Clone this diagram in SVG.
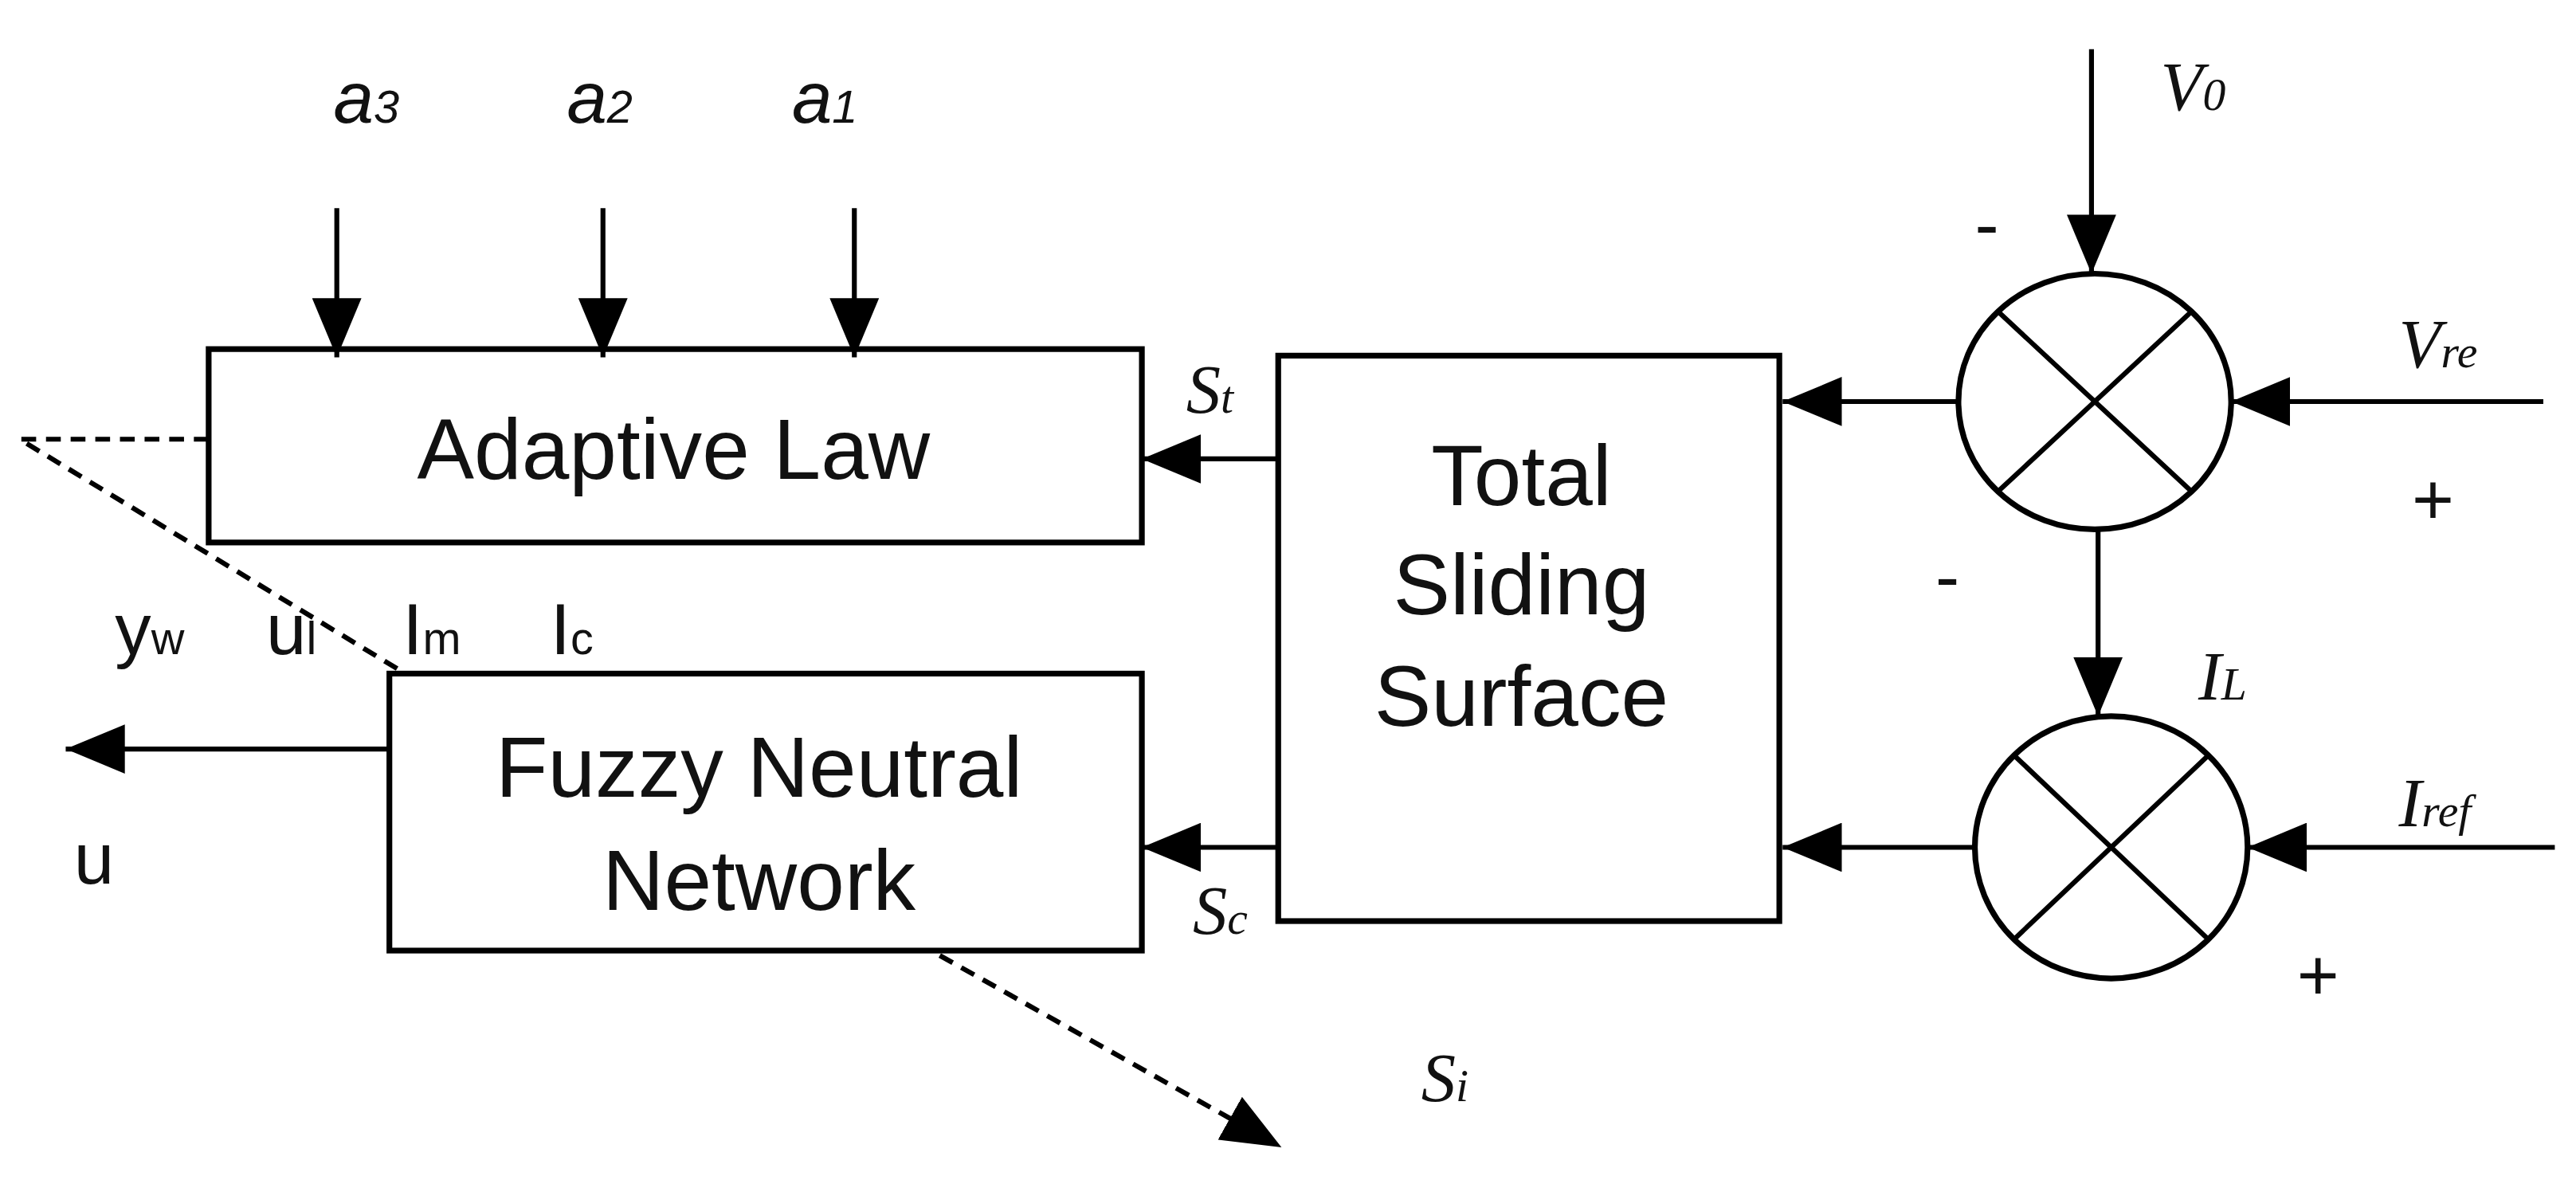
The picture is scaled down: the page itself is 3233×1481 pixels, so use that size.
<svg xmlns="http://www.w3.org/2000/svg" width="3233" height="1481" viewBox="0 0 3233 1481">
<style>
.b{fill:none;stroke:#000;stroke-width:3.5}
.l{stroke:#000;stroke-width:3;fill:none}
.d{stroke:#000;stroke-width:3;fill:none;stroke-dasharray:9 6}
.t{font-family:"Liberation Sans",Arial,sans-serif;font-size:52px;fill:#111;text-anchor:middle}
.s{font-family:"Liberation Sans",Arial,sans-serif;font-size:44px;fill:#111}
.m{font-family:"Liberation Serif","Times New Roman",serif;font-style:italic;font-size:42px;fill:#111}
.sub{font-size:28px}
</style>
<defs>
<marker id="a" viewBox="0 0 10 10" refX="10" refY="5" markerWidth="36" markerHeight="30" markerUnits="userSpaceOnUse" orient="auto" preserveAspectRatio="none"><path d="M0,0L10,5L0,10z"/></marker>
<marker id="A" viewBox="0 0 10 10" refX="10" refY="5" markerWidth="36" markerHeight="30" markerUnits="userSpaceOnUse" orient="auto" preserveAspectRatio="none"><path d="M0,0L10,5L0,10z"/></marker>
</defs>
<rect width="3233" height="1481" fill="#fff"/>
<g transform="scale(2.062,2.057)">
<g id="adaptive"><rect class="b" x="127" y="213" width="568" height="118"/><text class="t" x="410" y="292">Adaptive Law</text></g>
<g id="fuzzy"><rect class="b" x="237" y="411" width="458" height="169"/><text class="t" x="462" y="486">Fuzzy Neutral</text><text class="t" x="462" y="555">Network</text></g>
<g id="total"><rect class="b" x="778" y="217" width="305" height="345"/><text class="t" x="926" y="308">Total</text><text class="t" x="926" y="375">Sliding</text><text class="t" x="926" y="443">Surface</text></g>
<g id="sum1"><ellipse class="b" cx="1275" cy="245" rx="83" ry="78"/><path class="l" d="M1216,190L1334,300M1334,190L1216,300"/></g>
<g id="sum2"><ellipse class="b" cx="1285" cy="517" rx="83" ry="80"/><path class="l" d="M1226,461L1344,573M1344,461L1226,573"/></g>
<g id="connectors">
<path class="l" d="M205,127V218" marker-end="url(#a)"/>
<path class="l" d="M367,127V218" marker-end="url(#a)"/>
<path class="l" d="M520,127V218" marker-end="url(#a)"/>
<path class="l" d="M778,280H695" marker-end="url(#a)"/>
<path class="l" d="M778,517H695" marker-end="url(#a)"/>
<path class="l" d="M237,457H40" marker-end="url(#a)"/>
<path class="l" d="M1192,245H1085" marker-end="url(#a)"/>
<path class="l" d="M1202,517H1085" marker-end="url(#a)"/>
<path class="l" d="M1548,245H1358" marker-end="url(#a)"/>
<path class="l" d="M1555,517H1368" marker-end="url(#a)"/>
<path class="l" d="M1273,30V167" marker-end="url(#a)"/>
<path class="l" d="M1277,323V437" marker-end="url(#a)"/>
<path class="d" d="M127,268H12L245,410"/>
<path class="d" d="M572,583L780,700" marker-end="url(#A)"/>
</g>
<g id="labels">
<text class="s" x="203" y="75" font-style="italic">a<tspan class="sub">3</tspan></text>
<text class="s" x="345" y="75" font-style="italic">a<tspan class="sub">2</tspan></text>
<text class="s" x="482" y="75" font-style="italic">a<tspan class="sub">1</tspan></text>
<text class="s" x="70" y="399">y<tspan class="sub">w</tspan></text>
<text class="s" x="162" y="399">u<tspan class="sub">l</tspan></text>
<text class="s" x="245" y="399">I<tspan class="sub">m</tspan></text>
<text class="s" x="335" y="399">I<tspan class="sub">c</tspan></text>
<text class="s" x="45" y="539">u</text>
<text class="m" x="722" y="252">S<tspan class="sub">t</tspan></text>
<text class="m" x="726" y="570">S<tspan class="sub">c</tspan></text>
<text class="m" x="865" y="672">S<tspan class="sub">i</tspan></text>
<text class="m" x="1315" y="67">V<tspan class="sub">0</tspan></text>
<text class="m" x="1460" y="224">V<tspan class="sub">re</tspan></text>
<text class="m" x="1338" y="427">I<tspan class="sub">L</tspan></text>
<text class="m" x="1460" y="504">I<tspan class="sub">ref</tspan></text>
<text class="s" x="1202" y="152">-</text>
<text class="s" x="1178" y="367">-</text>
<text class="s" x="1468" y="320">+</text>
<text class="s" x="1398" y="610">+</text>
</g>
</g>
</svg>
